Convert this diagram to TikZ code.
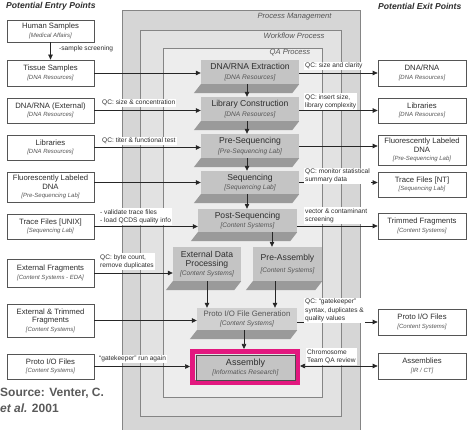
\documentclass[tikz,border=0pt]{standalone}
\usepackage{fontspec}
\setmainfont{Liberation Sans}
\usetikzlibrary{arrows.meta,calc}
\definecolor{frameA}{HTML}{D6D6D6}
\definecolor{frameB}{HTML}{E2E2E2}
\definecolor{frameC}{HTML}{EDEDED}
\definecolor{frameline}{HTML}{858585}
\definecolor{boxline}{HTML}{555555}
\definecolor{face}{HTML}{C4C4C4}
\definecolor{bevel}{HTML}{9A9A9A}
\definecolor{txt}{HTML}{2E2E2E}
\definecolor{subtxt}{HTML}{555555}
\definecolor{pinkframe}{HTML}{E2187F}
\definecolor{srcgray}{HTML}{5A5A5A}
\newcommand{\entsub}[1]{{\fontsize{6}{8.6}\selectfont\itshape\color{subtxt}#1}}
\newcommand{\blksub}[1]{{\fontsize{6.6}{9.2}\selectfont\itshape\color{subtxt}#1}}
\newcommand{\slab}[1]{\fill[bevel] (#1.south west) -- (#1.south east) -- ++(-7,9) -- ($(#1.south west)+(-7,9)$) -- cycle;}
\begin{document}
\begin{tikzpicture}[x=1pt,y=-1pt,
  entry/.style={draw=boxline, fill=white, line width=0.7pt, minimum width=87pt, align=center,
    font=\fontsize{7.7}{8.6}\selectfont, text=txt, inner sep=0pt},
  block/.style={fill=face, draw=none, align=center, font=\fontsize{8.6}{9.2}\selectfont,
    text=txt, inner sep=0pt},
  lab/.style={fill=white, inner sep=1pt, align=left, font=\fontsize{6.6}{8.3}\selectfont,
    text=txt, anchor=west},
  framelab/.style={font=\fontsize{7.6}{9}\selectfont\itshape, text=subtxt, inner sep=0pt},
  framebox/.style={draw=frameline, line width=0.8pt},
  arr/.style={draw=black!85, line width=0.7pt, -{Triangle[length=5pt,width=4.5pt]}},
  arrtwo/.style={draw=black!85, line width=0.7pt, {Triangle[length=5pt,width=4.5pt]}-{Triangle[length=5pt,width=4.5pt]}},
  title/.style={font=\fontsize{8.6}{10}\selectfont\bfseries\itshape, text=txt, inner sep=0pt, anchor=west}
]
\clip (0,0) rectangle (474,430);
\fill[white] (0,0) rectangle (474,430);

% frames
\draw[framebox, fill=frameA] (122,10) rectangle (360,445);
\draw[framebox, fill=frameB] (140,30) rectangle (341,416);
\draw[framebox, fill=frameC] (163,48) rectangle (322,397);
\node[framelab] (pmlab) at (294.5,17) {Process Management};
\node[framelab] (wflab) at (294,36) {Workflow Process};
\node[framelab] (qalab) at (290,53) {QA Process};

% titles
\node[title] (entrytitle) at (6,6.5) {Potential Entry Points};
\node[title] (exittitle) at (378,6.5) {Potential Exit Points};

% entry boxes
\node[entry, minimum height=22pt] (human) at (50.5,31) {Human Samples\\\entsub{[Medical Affairs]}};
\node[entry, minimum height=26pt] (tis) at (50.5,73) {Tissue Samples\\\entsub{[DNA Resources]}};
\node[entry, minimum height=25pt] (dnaext) at (50.5,110.5) {DNA/RNA (External)\\\entsub{[DNA Resources]}};
\node[entry, minimum height=25pt] (libin) at (50.5,147.5) {Libraries\\\entsub{[DNA Resources]}};
\node[entry, minimum height=30pt] (flin) at (50.5,187) {Fluorescently Labeled\\DNA\\\entsub{[Pre-Sequencing Lab]}};
\node[entry, minimum height=25pt] (trin) at (50.5,226.5) {Trace Files [UNIX]\\\entsub{[Sequencing Lab]}};
\node[entry, minimum height=28pt] (efin) at (50.5,273) {External Fragments\\\entsub{[Content Systems - EDA]}};
\node[entry, minimum height=33pt] (etin) at (50.5,320.5) {External \& Trimmed\\Fragments\\\entsub{[Content Systems]}};
\node[entry, minimum height=25pt] (pioin) at (50.5,366.5) {Proto I/O Files\\\entsub{[Content Systems]}};

% exit boxes
\node[entry, minimum width=88pt, minimum height=26pt] (dnaout) at (422,73) {DNA/RNA\\\entsub{[DNA Resources]}};
\node[entry, minimum width=88pt, minimum height=25pt] (libout) at (422,110.5) {Libraries\\\entsub{[DNA Resources]}};
\node[entry, minimum width=88pt, minimum height=30pt] (flout) at (422,150) {Fluorescently Labeled\\DNA\\\entsub{[Pre-Sequencing Lab]}};
\node[entry, minimum width=88pt, minimum height=25pt] (trout) at (422,184.5) {Trace Files [NT]\\\entsub{[Sequencing Lab]}};
\node[entry, minimum width=88pt, minimum height=26pt] (tfout) at (422,226) {Trimmed Fragments\\\entsub{[Content Systems]}};
\node[entry, minimum width=88pt, minimum height=26pt] (pioout) at (422,322) {Proto I/O Files\\\entsub{[Content Systems]}};
\node[entry, minimum width=88pt, minimum height=26pt] (asmout) at (422,366) {Assemblies\\\entsub{[IR / CT]}};

% process blocks
\node[block, minimum width=98pt, minimum height=24pt] (ext) at (250,72) {DNA/RNA Extraction\\\blksub{[DNA Resources]}};
\node[block, minimum width=98pt, minimum height=24pt] (lib) at (250,109) {Library Construction\\\blksub{[DNA Resources]}};
\node[block, minimum width=98pt, minimum height=24pt] (preseq) at (250,146) {Pre-Sequencing\\\blksub{[Pre-Sequencing Lab]}};
\node[block, minimum width=98pt, minimum height=23pt] (seq) at (250,182.5) {Sequencing\\\blksub{[Sequencing Lab]}};
\node[block, minimum width=99pt, minimum height=23pt] (postseq) at (247.5,220.5) {Post-Sequencing\\\blksub{[Content Systems]}};
\node[block, minimum width=68pt, minimum height=34pt] (edp) at (207,264) {External Data\\Processing\\\blksub{[Content Systems]}};
\node[block, minimum width=69pt, minimum height=34pt] (preasm) at (287.5,264) {Pre-Assembly\\[3pt]\blksub{[Content Systems]}};
\node[block, fill=face!80!white, minimum width=100pt, minimum height=22pt, font=\fontsize{7.8}{9}\selectfont, text=subtxt] (protoio) at (247,319) {Proto I/O File Generation\\\blksub{[Content Systems]}};
\slab{ext}
\slab{lib}
\slab{preseq}
\slab{seq}
\slab{postseq}
\slab{edp}
\slab{preasm}
\slab{protoio}

% assembly
\node[draw=pinkframe, fill=gray!22, line width=5pt, minimum width=105pt, minimum height=31pt, inner sep=0pt] (asmframe) at (245,367) {};
\node[block, draw=gray!60!black, line width=0.6pt, minimum width=99pt, minimum height=25pt, font=\fontsize{9}{9.4}\selectfont] (asm) at (245.5,367.5) {Assembly\\\blksub{[Informatics Research]}};

% vertical connectors
\draw[arr] (human.south) -- (tis.north);
\draw[arr] ([xshift=-3pt]ext.south) -- ([xshift=-3pt]lib.north);
\draw[arr] ([xshift=-3pt]lib.south) -- ([xshift=-3pt]preseq.north);
\draw[arr] ([xshift=-3pt]preseq.south) -- ([xshift=-3pt]seq.north);
\draw[arr] ([xshift=-3pt]seq.south) -- ([xshift=-3pt]seq.south |- postseq.north);
\draw[arr] ([xshift=-15.5pt]preasm.north |- postseq.south) -- ([xshift=-15.5pt]preasm.north);
\draw[arr] (edp.south) -- (edp.south |- protoio.north);
\draw[arr] ([xshift=-12.5pt]preasm.south) -- ([xshift=-12.5pt]preasm.south |- protoio.north);
\draw[arr] ([xshift=-3pt]protoio.south) -- ([xshift=-3pt]protoio.south |- asmframe.north);

% entry connectors
\draw[arr] (tis.east) -- (tis.east -| ext.west);
\draw[arr] (dnaext.east) -- (dnaext.east -| lib.west);
\draw[arr] (libin.east) -- (libin.east -| preseq.west);
\draw[arr] (seq.west -| flin.east) -- (seq.west);
\draw[arr] (trin.east) -- (trin.east -| postseq.west);
\draw[arr] (efin.east) -- (efin.east -| edp.west);
\draw[arr] (etin.east) -- (etin.east -| protoio.west);
\draw[arr] (pioin.east) -- (pioin.east -| asmframe.west);

% exit connectors
\draw[arr] (dnaout.west -| ext.east) -- (dnaout.west);
\draw[arr] (libout.west -| lib.east) -- (libout.west);
\draw[arr] (preseq.east) -- (preseq.east -| flout.west);
\draw[arr] (seq.east) -- (seq.east -| trout.west);
\draw[arr] (tfout.west -| postseq.east) -- (tfout.west);
\draw[arr] (pioout.west -| protoio.east) -- (pioout.west);
\draw[arrtwo] (asmout.west -| asmframe.east) -- (asmout.west);

% labels
\node[lab, fill=none] (l0) at (58,49) {-sample screening};
\node[lab] (l1) at (101,103) {QC: size \& concentration};
\node[lab] (l2) at (101,141) {QC: titer \& functional test};
\node[lab] (l3) at (99,216.5) {- validate trace files\\- load QCDS quality info};
\node[lab] (l4) at (99,261.5) {QC: byte count,\\remove duplicates};
\node[lab] (l5) at (98,359) {“gatekeeper” run again};
\node[lab] (r1) at (304,66) {QC: size and clarity};
\node[lab] (r2) at (304,101.5) {QC: insert size,\\library complexity};
\node[lab] (r3) at (304,176) {QC: monitor statistical\\summary data};
\node[lab] (r4) at (304,215.5) {vector \& contaminant\\screening};
\node[lab] (r5) at (304,310.5) {QC: “gatekeeper”\\syntax, duplicates \&\\quality values};
\node[lab] (r6) at (306,356.5) {Chromosome\\Team QA review};

% source
\node[anchor=base west, inner sep=0pt, align=left, text=srcgray, font=\fontsize{12}{16}\selectfont\bfseries] (src) at (0,412) {Source: Venter, C.\\\textit{et al.} 2001};
\end{tikzpicture}
\end{document}
